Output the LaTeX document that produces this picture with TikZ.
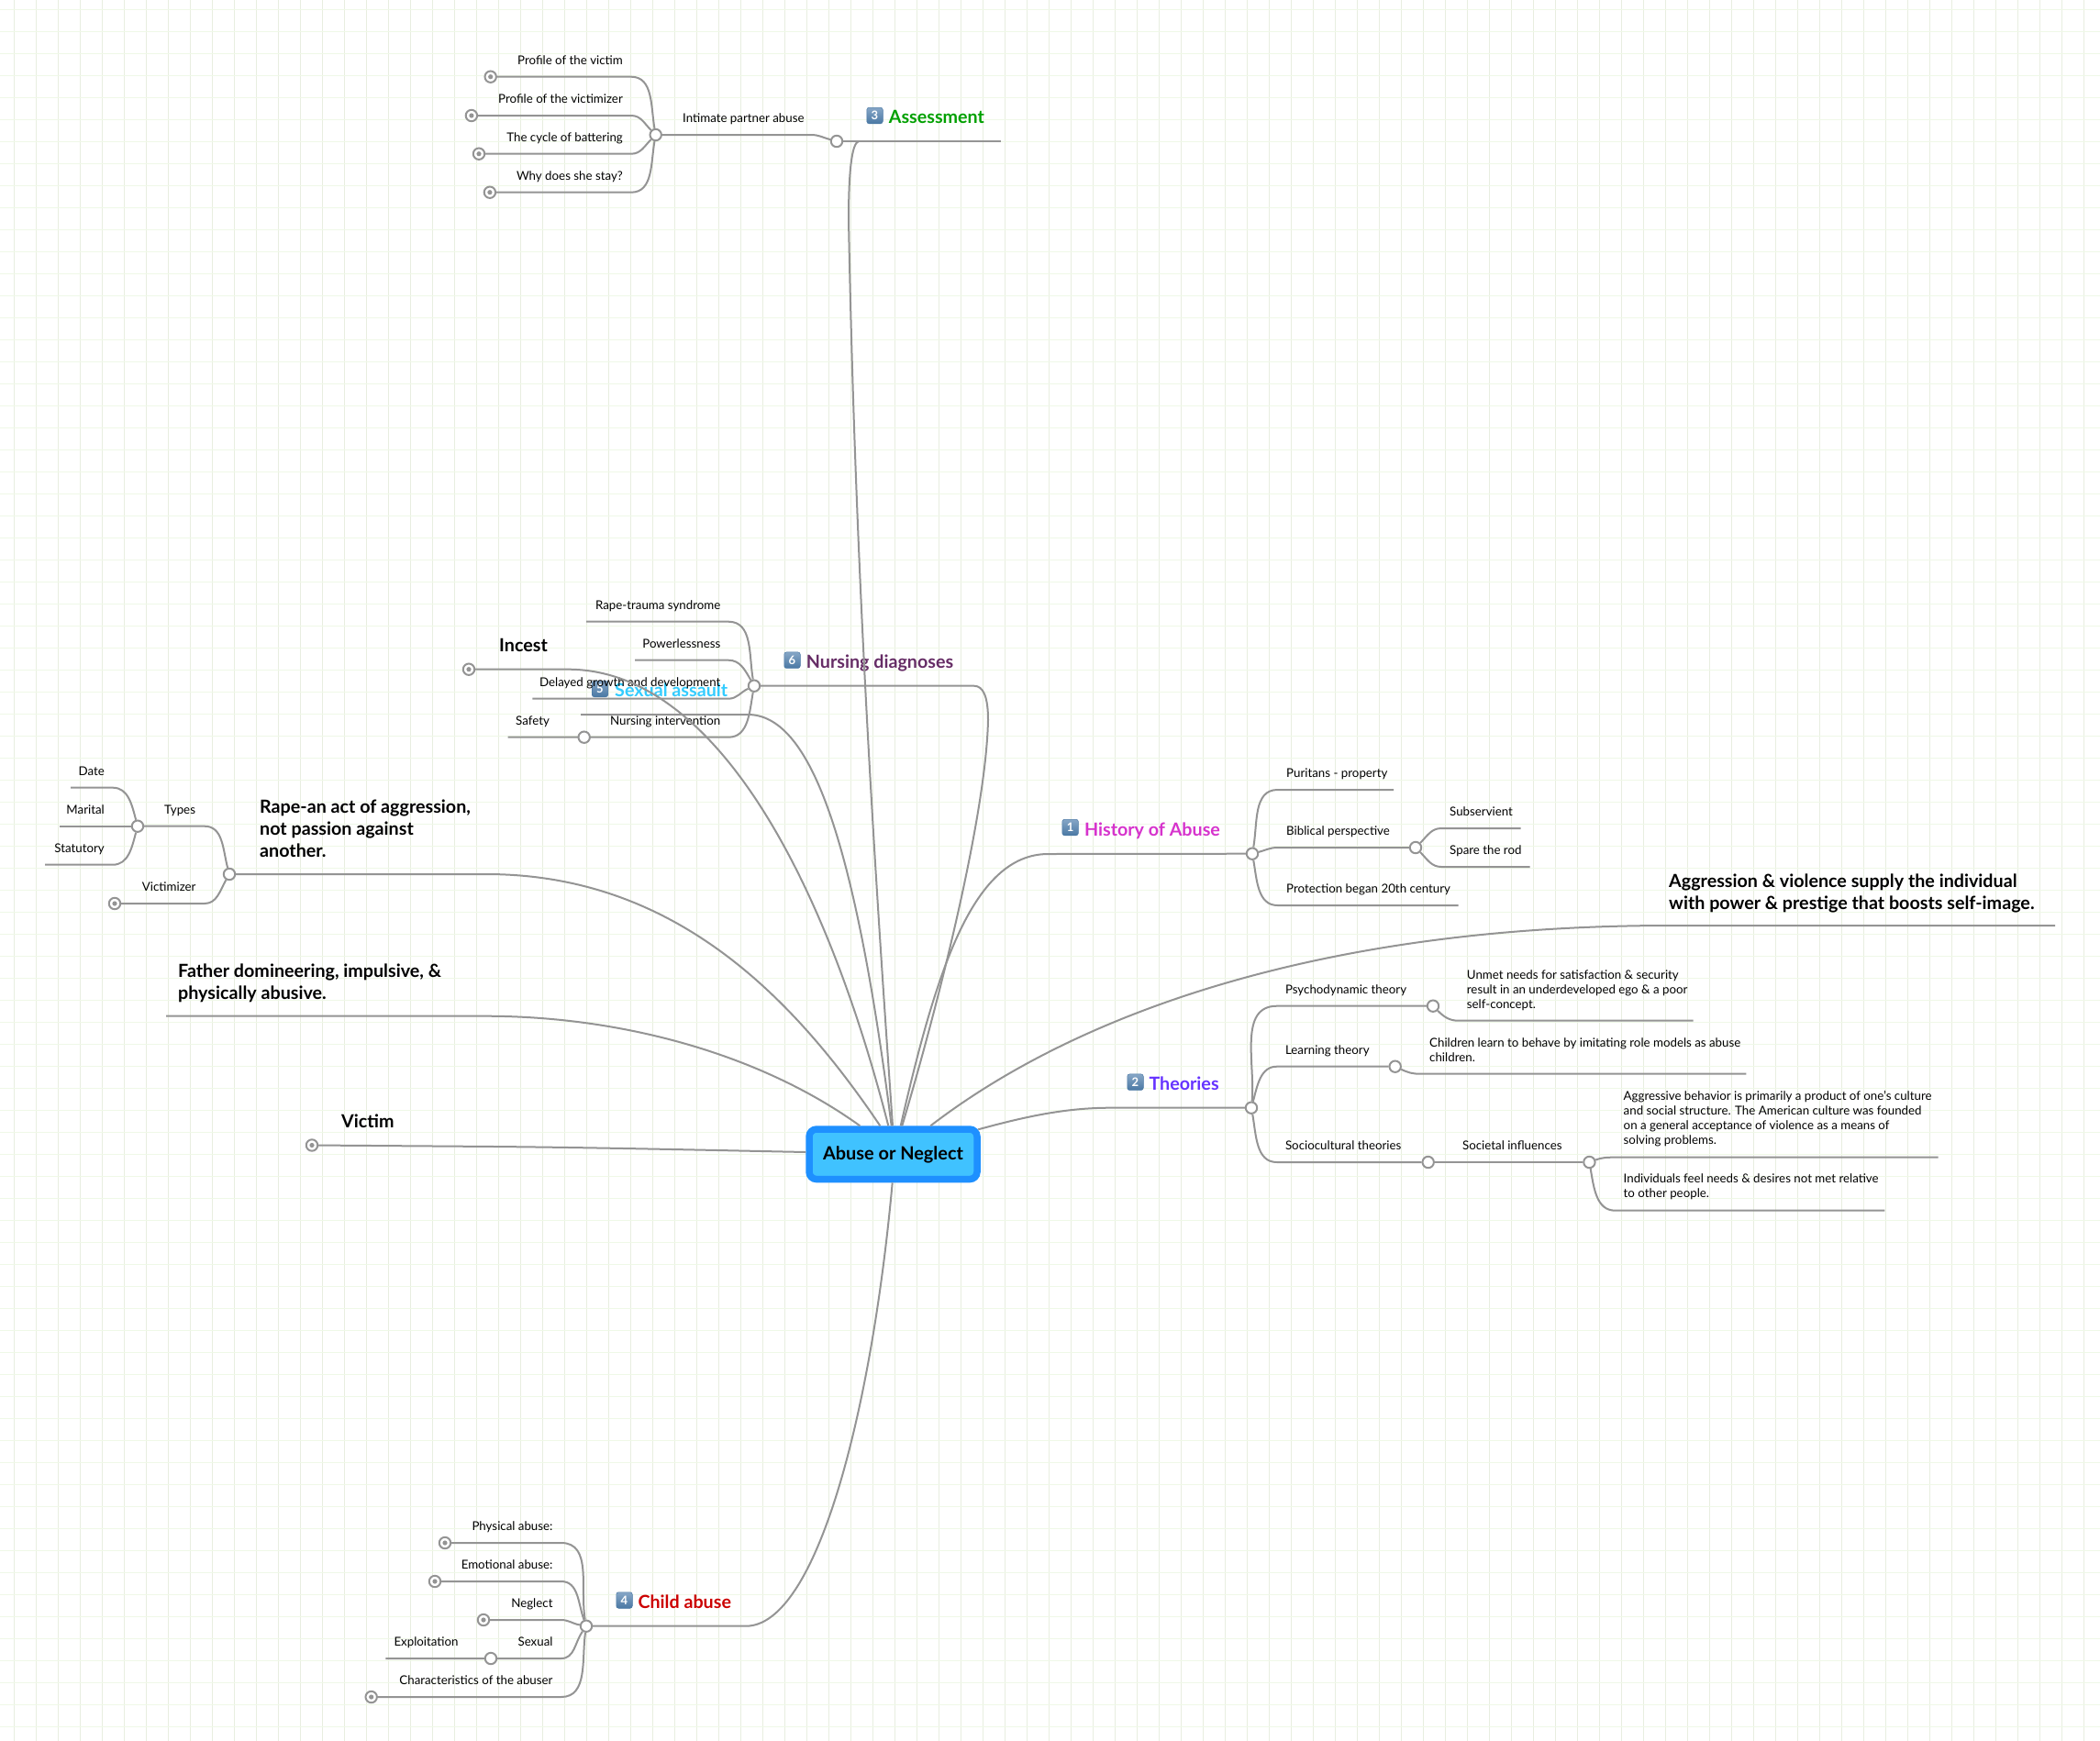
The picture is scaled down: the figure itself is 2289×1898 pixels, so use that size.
\documentclass[tikz,border=0pt]{standalone}
\usepackage{fontspec}
\setmainfont{Lato}
\definecolor{wirec}{HTML}{949494}
\definecolor{gridv}{HTML}{E8EEE0}
\definecolor{gridh}{HTML}{EFF8E7}
\definecolor{rootb}{HTML}{1E90FF}
\definecolor{rootf}{HTML}{40C2FF}
\definecolor{capt}{HTML}{86A6C6}
\definecolor{capb}{HTML}{4A78A4}
\definecolor{asmc}{HTML}{00A000}
\definecolor{hisc}{HTML}{D633CC}
\definecolor{thec}{HTML}{6633FF}
\definecolor{chic}{HTML}{CC0000}
\definecolor{sexc}{HTML}{33CCFF}
\definecolor{nurc}{HTML}{662D66}
\tikzset{
    wire/.style={draw=wirec,line width=2pt},
    knob/.style={circle,draw=wirec,fill=white,line width=2pt,minimum size=12.4pt,inner sep=0pt},
    enddot/.style={knob,path picture={\fill[wirec] (path picture bounding box.center) circle (2.6pt);}},
    leafl/.style={anchor=base west,inner sep=0pt,yshift=-1pt,align=left,font=\fontsize{13.3}{16}\selectfont},
    leafr/.style={anchor=base east,inner sep=0pt,xshift=1pt,yshift=-1pt,font=\fontsize{13.3}{16}\selectfont},
    bigl/.style={anchor=base west,inner sep=0pt,yshift=-1pt,align=left,font=\fontsize{19.7}{24}\selectfont\bfseries},
    topic/.style={anchor=base west,inner sep=0pt,yshift=-1pt,font=\fontsize{19.7}{24}\selectfont\bfseries},
    keycap/.style={rounded corners=2.5pt,top color=capt,bottom color=capb,draw=capb,line width=.5pt,minimum size=17.5pt,inner sep=0pt,text=white,font=\fontsize{13}{13}\selectfont\bfseries},
}
\begin{document}
\begin{tikzpicture}[x=1pt,y=-1pt]
    \useasboundingbox (0,0) rectangle (2289,1898);
    \fill[white] (0,0) rectangle (2289,1898);
    \foreach \x in {0,...,95} \draw[gridv,line width=1.4pt] (15.3+24*\x,0)--(15.3+24*\x,1898);
    \foreach \y in {0,...,78} \draw[gridh,line width=1.4pt] (0,10.7+24*\y)--(2289,10.7+24*\y);

    \node[rounded corners=8pt,line width=7.5pt,draw=rootb,fill=rootf,minimum width=183pt,minimum height=54.5pt,inner sep=0pt,text height=16.5pt,font=\fontsize{19.9}{24}\selectfont\bfseries] (root) at (973.5,1258.3) {Abuse or Neglect};

    % topics
    \node[keycap] (capAsm) at (953.5,126) {3};
    \node[topic,text=asmc] (asm) at (968.6,133.3) {Assessment};
    \node[keycap] (capHis) at (1166.6,902) {1};
    \node[topic,text=hisc] (his) at (1181.8,910.3) {History of Abuse};
    \node[keycap] (capThe) at (1237.5,1179.7) {2};
    \node[topic,text=thec] (the) at (1252.3,1187) {Theories};
    \node[keycap] (capChi) at (680.5,1744.5) {4};
    \node[topic,text=chic] (chi) at (695.3,1752.7) {Child abuse};
    \node[keycap] (capSex) at (654,751) {5};
    \node[topic,text=sexc] (sex) at (670,758.7) {Sexual assault};
    \node[keycap] (capNur) at (863.5,719.7) {6};
    \node[topic,text=nurc] (nur) at (878.7,727.7) {Nursing diagnoses};

    % assessment
    \node[knob] (kAsm) at (912,154) {};
    \node[knob] (kPart) at (714.7,147) {};
    \coordinate (asmE) at (1091,154);
    \coordinate (asmS) at (936,154);
    \coordinate (asmB) at (925,240);
    \coordinate (partB) at (884,147);
    \draw[wire] (kAsm)--(asmE);
    \draw[wire] (kPart)--(partB) to[out=0,in=165] (kAsm);
    \draw[wire] (asmS) .. controls (928,156) and (925,190) .. (asmB) .. controls (932,600) and (950,900) .. ([xshift=-.5pt]root.north);
    \node[leafl] (partT) at (744,132.7) {Intimate partner abuse};
    \foreach \nm/\xa/\ya/\ang/\txt in {pvm/534.7/83.7/100/Profile of the victim,
        pvz/513.9/126/135/Profile of the victimizer,
        cyc/522/167.7/225/The cycle of battering,
        why/533.9/209.7/260/Why does she stay?}{
        \node[enddot] (\nm) at (\xa,\ya) {};
        \coordinate (\nm b) at (688,\ya);
        \node[leafr] (\nm t) at (678,\ya-14.2) {\txt};
        \draw[wire] (kPart) to[out=\ang,in=0] (\nm b)--(\nm);
    }

    % nursing diagnoses
    \node[knob] (kNur) at (822,747.7) {};
    \coordinate (nurB) at (1061.6,747.7);
    \coordinate (nurC) at (1077,785);
    \draw[wire] (kNur)--(nurB) .. controls (1072,747.7) and (1077,760) .. (nurC) .. controls (1075,880) and (1030,1070) .. ([xshift=9.8pt]root.north);
    \foreach \nm/\xa/\ya/\ang/\txt in {rts/639/677.7/100/Rape-trauma syndrome,
        pow/692/719.7/120/Powerlessness,
        dgd/580.4/761.7/205/Delayed growth and development,
        nin/553.5/803.7/260/Nursing intervention}{
        \coordinate (\nm e) at (\xa,\ya);
        \coordinate (\nm b) at (794,\ya);
        \node[leafr] (\nm t) at (784.5,\ya-13.9) {\txt};
        \draw[wire] (kNur) to[out=\ang,in=0] (\nm b)--(\nm e);
    }
    \node[knob] (kSaf) at (636.7,803.7) {};
    \node[leafl] (safT) at (562,789.8) {Safety};

    % sexual assault
    \coordinate (sexE) at (633,779);
    \coordinate (sexB) at (815,779);
    \draw[wire] (sexE)--(sexB) .. controls (880,779) and (930,900) .. ([xshift=-1.8pt]root.north);
    \node[enddot] (ince) at (511,729.7) {};
    \coordinate (inceB) at (619,729.7);
    \draw[wire] (ince)--(inceB) .. controls (780,729.7) and (900,960) .. ([xshift=-5.2pt]root.north);
    \node[bigl] (inceT) at (544,709) {Incest};

    % rape
    \node[knob] (kRape) at (250,953) {};
    \node[knob] (kTyp) at (150,900.7) {};
    \coordinate (rapeB) at (530,953);
    \coordinate (typB) at (223,900.7);
    \coordinate (vicB) at (223,985);
    \node[enddot] (vicz) at (125,985) {};
    \draw[wire] (kRape)--(rapeB) .. controls (730,953) and (860,1080) .. ([xshift=-14.2pt]root.north);
    \draw[wire] (kTyp)--(typB) to[out=0,in=105] (kRape);
    \draw[wire] (kRape) to[out=240,in=0] (vicB)--(vicz);
    \node[leafl] (typT) at (179,886.8) {Types};
    \node[leafr] (viczT) at (212.7,970.8) {Victimizer};
    \foreach \nm/\xa/\ya/\ang/\txt in {dat/77/858.7/105/Date,
        mar/65/900.7/180/Marital,
        stu/49/942.7/255/Statutory}{
        \coordinate (\nm e) at (\xa,\ya);
        \coordinate (\nm b) at (123,\ya);
        \node[leafr] (\nm t) at (113,\ya-13.9) {\txt};
        \draw[wire] (kTyp) to[out=\ang,in=0] (\nm b)--(\nm e);
    }
    \node[bigl] (rapeT) at (283,933.7) {Rape-an act of aggression,\\not passion against\\another.};

    % father
    \coordinate (fatE) at (181,1107.7);
    \coordinate (fatB) at (530,1107.7);
    \draw[wire] (fatE)--(fatB) .. controls (680,1108) and (830,1150) .. ([xshift=-36.2pt]root.north);
    \node[bigl] (fatT) at (194,1088.3) {Father domineering, impulsive, \&\\physically abusive.};

    % victim
    \node[enddot] (vict) at (340,1248.5) {};
    \coordinate (victB) at (540,1250);
    \draw[wire] (vict)--(victB) .. controls (650,1251) and (780,1254) .. ([yshift=2.3pt]root.west);
    \node[bigl] (victT) at (372,1228) {Victim};

    % child abuse
    \node[knob] (kChi) at (639,1772.7) {};
    \coordinate (chiB) at (813,1772.7);
    \draw[wire] (kChi)--(chiB) .. controls (890,1772.7) and (950,1540) .. ([xshift=-.8pt]root.south);
    \foreach \nm/\xa/\ya/\ang/\txt in {phy/485/1682/100/Physical abuse:,
        emo/474/1724/110/Emotional abuse:,
        neg/527/1766/170/Neglect,
        cha/404.7/1850/262/Characteristics of the abuser}{
        \node[enddot] (\nm) at (\xa,\ya) {};
        \coordinate (\nm b) at (611.7,\ya);
        \node[leafr] (\nm t) at (601.7,\ya-14.2) {\txt};
        \draw[wire] (kChi) to[out=\ang,in=0] (\nm b)--(\nm);
    }
    \coordinate (sxlB) at (611.7,1808);
    \coordinate (expE) at (420.3,1808);
    \draw[wire] (kChi) to[out=235,in=0] (sxlB)--(expE);
    \node[knob] (kExp) at (535,1808) {};
    \node[leafr] (sxlT) at (601.7,1793.8) {Sexual};
    \node[leafl] (expT) at (429.3,1793.8) {Exploitation};

    % history
    \node[knob] (kHis) at (1365,930.7) {};
    \coordinate (hisB) at (1142.5,931);
    \draw[wire] (kHis)--(hisB) .. controls (1060,931) and (1020,1060) .. ([xshift=8.2pt]root.north);
    \coordinate (purB) at (1392.5,861);
    \coordinate (purE) at (1519,861);
    \coordinate (bibB) at (1392.5,924);
    \coordinate (proB) at (1392.5,987);
    \coordinate (proE) at (1589.6,987);
    \node[knob] (kBib) at (1543,924) {};
    \draw[wire] (kHis) to[out=80,in=180] (purB)--(purE);
    \draw[wire] (kHis) to[out=15,in=180] (bibB)--(kBib);
    \draw[wire] (kHis) to[out=-80,in=180] (proB)--(proE);
    \coordinate (subB) at (1571,903);
    \coordinate (subE) at (1657.5,903);
    \coordinate (spaB) at (1571,945);
    \coordinate (spaE) at (1667.5,945);
    \draw[wire] (kBib) to[out=45,in=180] (subB)--(subE);
    \draw[wire] (kBib) to[out=-45,in=180] (spaB)--(spaE);
    \node[leafl] (purT) at (1402,846.8) {Puritans - property};
    \node[leafl] (bibT) at (1402,909.8) {Biblical perspective};
    \node[leafl] (proT) at (1402,972.5) {Protection began 20th century};
    \node[leafl] (subT) at (1580,888.8) {Subservient};
    \node[leafl] (spaT) at (1580,930.8) {Spare the rod};

    % aggression
    \coordinate (agrB) at (1820,1009);
    \coordinate (agrE) at (2240,1009);
    \draw[wire] (agrE)--(agrB) .. controls (1450,1009) and (1180,1100) .. ([xshift=40.8pt]root.north);
    \node[bigl] (agrT) at (1819,990) {Aggression \& violence supply the individual\\with power \& prestige that boosts self-image.};

    % theories
    \node[knob] (kThe) at (1364,1207.7) {};
    \coordinate (theB) at (1210,1207.7);
    \draw[wire] (kThe)--(theB) .. controls (1160,1207.7) and (1115,1218) .. ([xshift=-2.5pt,yshift=-4pt]root.north east);
    \coordinate (psyB) at (1391.8,1096.7);
    \coordinate (lrnB) at (1391.8,1162.7);
    \coordinate (socB) at (1391.8,1267);
    \node[knob] (kPsy) at (1562,1096.7) {};
    \node[knob] (kLrn) at (1520.7,1162.7) {};
    \node[knob] (kSoc) at (1556.7,1267) {};
    \node[knob] (kInf) at (1732.4,1267) {};
    \draw[wire] (kThe) to[out=85,in=180] (psyB)--(kPsy);
    \draw[wire] (kThe) to[out=75,in=180] (lrnB)--(kLrn);
    \draw[wire] (kThe) to[out=-80,in=180] (socB)--(kSoc);
    \draw[wire] (kSoc)--(kInf);
    \coordinate (unmB) at (1589.7,1112.7);
    \coordinate (unmE) at (1845.7,1112.7);
    \coordinate (chdB) at (1547.7,1170.7);
    \coordinate (chdE) at (1903.3,1170.7);
    \coordinate (agbB) at (1760.5,1261.7);
    \coordinate (agbE) at (2112.5,1261.7);
    \coordinate (indB) at (1760.5,1319.7);
    \coordinate (indE) at (2054.3,1319.7);
    \draw[wire] (kPsy) to[out=-45,in=180] (unmB)--(unmE);
    \draw[wire] (kLrn) to[out=-25,in=180] (chdB)--(chdE);
    \draw[wire] (kInf) to[out=20,in=180] (agbB)--(agbE);
    \draw[wire] (kInf) to[out=-80,in=180] (indB)--(indE);
    \node[leafl] (psyT) at (1400.8,1082.7) {Psychodynamic theory};
    \node[leafl] (lrnT) at (1400.8,1148.7) {Learning theory};
    \node[leafl] (socT) at (1400.8,1252.8) {Sociocultural theories};
    \node[leafl] (infT) at (1593.9,1252.8) {Societal influences};
    \node[leafl] (unmT) at (1598.7,1098.2) {Unmet needs for satisfaction \& security\\result in an underdeveloped ego \& a poor\\self-concept.};
    \node[leafl] (chdT) at (1558,1156.2) {Children learn to behave by imitating role models as abuse\\children.};
    \node[leafl] (agbT) at (1769.5,1246.8) {Aggressive behavior is primarily a product of one's culture\\and social structure. The American culture was founded\\on a general acceptance of violence as a means of\\solving problems.};
    \node[leafl] (indT) at (1769.5,1304.8) {Individuals feel needs \& desires not met relative\\to other people.};
\end{tikzpicture}
\end{document}
